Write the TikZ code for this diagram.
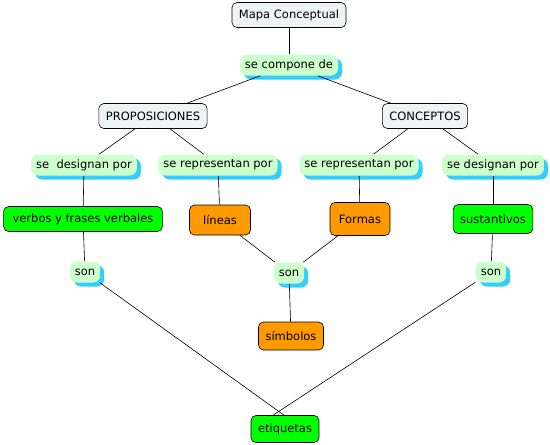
\documentclass[tikz,border=0pt]{standalone}
\usepackage{fontspec}
\setmainfont{DejaVu Sans}
\usetikzlibrary{shadows}
\definecolor{conbg}{HTML}{EEF3F6}
\definecolor{linkbg}{HTML}{CCFFCC}
\definecolor{linkshadow}{HTML}{33CCFF}
\definecolor{verde}{HTML}{00FF00}
\definecolor{naranja}{HTML}{FF9900}
\tikzset{
  concepto/.style={draw=black, rounded corners=5pt, fill=conbg, minimum height=25pt,
    inner xsep=7pt, font=\fontsize{11.5}{13}\selectfont},
  verdebox/.style={concepto, fill=verde},
  naranjabox/.style={concepto, fill=naranja, minimum height=30pt},
  enlace/.style={fill=linkbg, rounded corners=7pt, minimum height=21pt, inner xsep=5pt,
    font=\fontsize{11.5}{13}\selectfont,
    drop shadow={shadow xshift=4pt, shadow yshift=-4pt, fill=linkshadow, opacity=1}},
}
\begin{document}
\begin{tikzpicture}[x=1pt, y=-1pt, line width=0.6pt]
    \useasboundingbox (0,0) rectangle (550,445);
    % Concepts
    \node[concepto] (mapa) at (289,15) {Mapa Conceptual};
    \node[concepto] (prop) at (153,116) {PROPOSICIONES};
    \node[concepto] (conc) at (425,116) {CONCEPTOS};
    \node[verdebox, inner xsep=9pt] (verbos) at (83,219) {verbos y frases verbales};
    \node[naranjabox, minimum width=61pt] (lineas) at (220,220) {líneas};
    \node[naranjabox, minimum height=33pt, minimum width=60pt] (formas) at (360,219) {Formas};
    \node[verdebox, minimum height=29pt] (sust) at (493,219) {sustantivos};
    \node[naranjabox, minimum height=28pt] (simb) at (291,336) {símbolos};
    \node[verdebox, minimum height=27pt] (etiq) at (285,429) {etiquetas};

    % Linking phrases
    \node[enlace] (compone) at (289,65) {se compone de};
    \node[enlace] (desigL) at (84,165) {se\ \ designan por};
    \node[enlace] (represL) at (218,165) {se representan por};
    \node[enlace] (represR) at (359,165) {se representan por};
    \node[enlace] (desigR) at (493,165) {se designan por};
    \node[enlace] (sonL) at (85,272) {son};
    \node[enlace] (sonM) at (289,273) {son};
    \node[enlace] (sonR) at (491,272) {son};

    % Connectors
    \draw (mapa) -- (compone);
    \draw (compone) -- (prop);
    \draw (compone) -- (conc);
    \draw (prop) -- (desigL);
    \draw (prop) -- (represL);
    \draw (conc) -- (represR);
    \draw (conc) -- (desigR);
    \draw (desigL) -- (verbos);
    \draw (represL) -- (lineas);
    \draw (represR) -- (formas);
    \draw (desigR) -- (sust);
    \draw (verbos) -- (sonL);
    \draw (lineas) -- (sonM);
    \draw (formas) -- (sonM);
    \draw (sonM) -- (simb);
    \draw (sust) -- (sonR);

    % Crossing lines into etiquetas
    \coordinate (etiqA) at ([xshift=-1pt]etiq.north);
    \coordinate (etiqB) at ([xshift=-12pt]etiq.north);
    \draw (sonL) -- (etiqA);
    \draw (sonR) -- (etiqB);
\end{tikzpicture}
\end{document}
